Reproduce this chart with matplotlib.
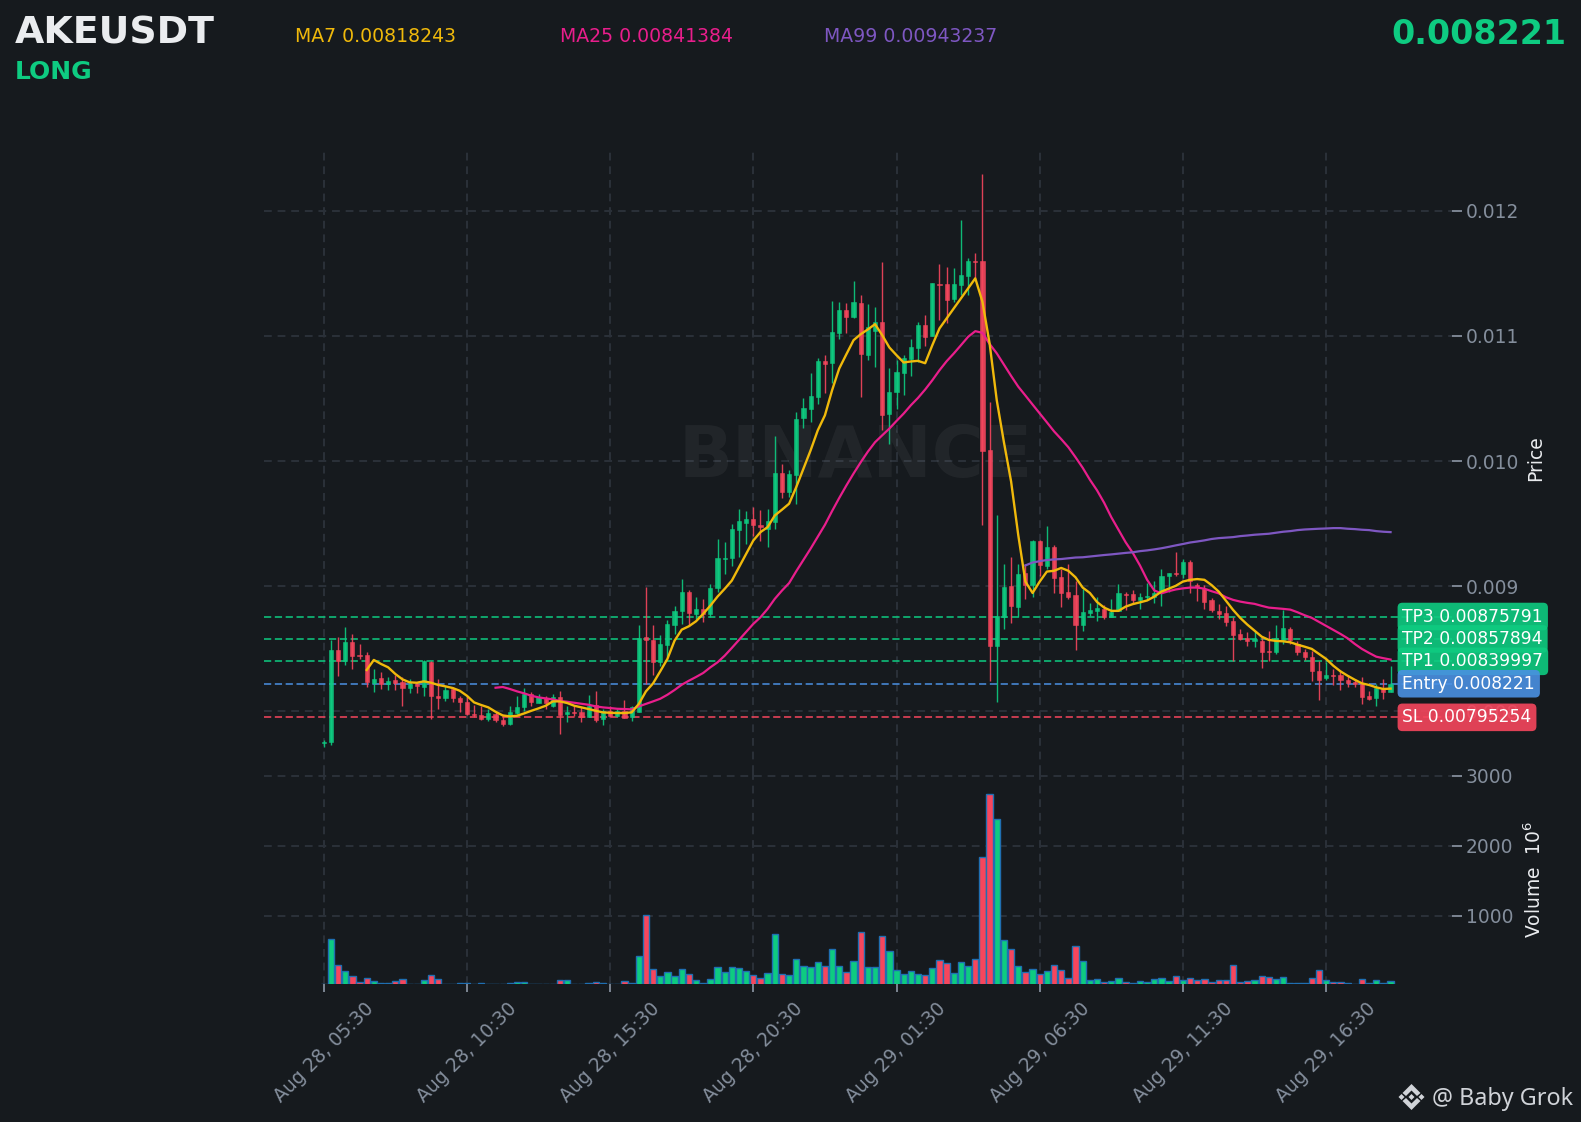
import numpy as np
import matplotlib
matplotlib.use('Agg')
import matplotlib.pyplot as plt
from matplotlib.patches import Polygon

# prices below are in millionths
opens = [7747, 7752, 8493, 8405, 8557, 8453, 8453, 8229, 8269, 8216,
         8253, 8237, 8184, 8216, 8192, 8392, 8125, 8104, 8176, 8109,
         8077, 7981, 7973, 7936, 7981, 7933, 7896, 7989, 8032, 8136,
         8069, 8107, 8045, 8117, 7981, 7997, 7997, 7957, 8053, 7939,
         8000, 7965, 8005, 7957, 7992, 8597, 8571, 8397, 8533, 8693,
         8805, 8957, 8779, 8821, 8779, 8984, 9221, 9224, 9445, 9504,
         9539, 9485, 9459, 9512, 9907, 9752, 9885, 10344, 10413, 10512,
         10797, 10779, 11024, 11205, 11152, 11259, 10845, 11037, 11107, 10373,
         10549, 10704, 10813, 10901, 11085, 10997, 11411, 11411, 11293, 11405,
         11480, 11597, 11597, 10085, 8520, 8757, 9000, 8831, 9109, 9009,
         9360, 9160, 9311, 9071, 8951, 8929, 8689, 8786, 8800, 8820,
         8757, 8803, 8937, 8937, 8889, 8911, 8917, 8951, 9080, 9106,
         9100, 9191, 9009, 8980, 8889, 8805, 8787, 8725, 8619, 8587,
         8560, 8565, 8485, 8472, 8571, 8659, 8539, 8477, 8437, 8325,
         8264, 8291, 8293, 8253, 8237, 8219, 8123, 8104, 8179, 8152]
highs = [7771, 8571, 8597, 8677, 8619, 8539, 8477, 8339, 8317, 8272,
         8291, 8272, 8256, 8232, 8411, 8405, 8259, 8205, 8197, 8125,
         8125, 8053, 8045, 8019, 7992, 7965, 8043, 8123, 8187, 8152,
         8139, 8125, 8139, 8165, 8045, 8045, 8032, 8128, 8165, 8019,
         8043, 8019, 8091, 8045, 8691, 8992, 8691, 8611, 8731, 8845,
         9059, 8971, 8912, 8899, 9019, 9379, 9352, 9499, 9619, 9597,
         9632, 9605, 9619, 10203, 9979, 9931, 10392, 10507, 10699, 10819,
         10845, 11280, 11272, 11259, 11440, 11325, 11251, 11227, 11587, 10739,
         10805, 10845, 10971, 11112, 11165, 11424, 11571, 11547, 11539, 11926,
         11619, 11659, 12291, 10472, 9571, 9174, 9237, 9174, 9180, 9366,
         9366, 9480, 9329, 9137, 9180, 9043, 8980, 8866, 8917, 8851,
         8900, 9014, 8951, 8966, 8943, 9029, 9043, 9137, 9109, 9271,
         9214, 9209, 9023, 9009, 8909, 8859, 8845, 8752, 8659, 8632,
         8640, 8592, 8640, 8691, 8811, 8672, 8560, 8499, 8485, 8405,
         8392, 8339, 8331, 8285, 8256, 8277, 8165, 8219, 8259, 8363]
lows = [7712, 7728, 8280, 8368, 8336, 8416, 8192, 8152, 8176, 8168,
        8168, 8043, 8144, 8144, 8120, 7939, 8016, 8080, 8072, 7992,
        7971, 7957, 7933, 7920, 7912, 7880, 7888, 7979, 8005, 8045,
        8064, 8019, 8037, 7819, 7912, 7963, 7912, 7957, 7912, 7891,
        7952, 7957, 7947, 7925, 7992, 8219, 8291, 8365, 8432, 8619,
        8699, 8685, 8739, 8712, 8752, 8952, 9099, 9165, 9237, 9339,
        9397, 9365, 9312, 9459, 9704, 9712, 9659, 10267, 10312, 10459,
        10547, 10627, 10971, 11024, 11139, 10512, 10805, 10752, 10245, 10139,
        10419, 10531, 10680, 10792, 10920, 10997, 11125, 11099, 11272, 11325,
        11325, 11459, 9485, 8245, 8072, 8660, 8709, 8757, 8900, 8917,
        9080, 9137, 8943, 8831, 8900, 8494, 8643, 8763, 8723, 8737,
        8757, 8803, 8809, 8866, 8814, 8889, 8866, 8843, 8957, 9080,
        9066, 8946, 8880, 8814, 8794, 8739, 8685, 8405, 8571, 8523,
        8512, 8347, 8405, 8459, 8539, 8539, 8451, 8411, 8245, 8091,
        8251, 8211, 8171, 8197, 8192, 8059, 8091, 8043, 8099, 8152]
closes = [7757, 8493, 8405, 8557, 8445, 8445, 8237, 8261, 8216, 8245,
          8229, 8184, 8216, 8200, 8400, 8120, 8104, 8171, 8104, 8072,
          7976, 7968, 7936, 7989, 7931, 7896, 7997, 8037, 8139, 8072,
          8112, 8064, 8112, 7973, 7997, 7989, 7957, 8043, 7933, 8005,
          7965, 8005, 7947, 8032, 8587, 8571, 8397, 8539, 8699, 8805,
          8957, 8784, 8821, 8779, 8987, 9227, 9227, 9453, 9517, 9539,
          9485, 9472, 9517, 9907, 9752, 9893, 10339, 10427, 10517, 10797,
          10773, 11027, 11205, 11152, 11267, 10853, 11072, 11107, 10365, 10555,
          10707, 10819, 10907, 11085, 10992, 11419, 11405, 11285, 11413, 11485,
          11597, 11592, 10080, 8520, 8765, 8997, 8843, 9094, 9009, 9360,
          9171, 9311, 9066, 8946, 8917, 8689, 8791, 8809, 8826, 8757,
          8794, 8946, 8929, 8889, 8911, 8923, 8946, 9080, 9106, 9094,
          9191, 9043, 8997, 8871, 8809, 8779, 8712, 8613, 8579, 8560,
          8576, 8472, 8472, 8587, 8667, 8571, 8472, 8432, 8320, 8253,
          8291, 8283, 8253, 8224, 8219, 8112, 8101, 8184, 8152, 8221]

volumes = [30, 676, 305, 219, 143, 62, 119, 76, 48, 43,
           76, 105, 33, 33, 90, 157, 100, 33, 33, 48,
           48, 28, 48, 29, 29, 29, 43, 62, 62, 33,
           29, 29, 33, 90, 90, 33, 33, 48, 62, 48,
           28, 28, 76, 48, 433, 1019, 248, 148, 205, 143,
           248, 176, 90, 48, 105, 276, 205, 276, 262, 219,
           162, 119, 190, 748, 176, 162, 390, 290, 276, 348,
           290, 533, 290, 205, 352, 767, 276, 276, 710, 505,
           233, 167, 219, 176, 162, 262, 376, 324, 190, 348,
           290, 390, 1848, 2738, 2381, 662, 533, 290, 205, 248,
           176, 219, 305, 233, 119, 576, 362, 90, 105, 62,
           76, 119, 62, 48, 76, 62, 105, 119, 76, 148,
           90, 119, 90, 105, 62, 90, 90, 295, 62, 76,
           90, 148, 133, 105, 133, 48, 48, 48, 119, 233,
           90, 62, 62, 38, 29, 105, 48, 90, 48, 76]

ma7 = [8331, 8411, 8379, 8352, 8299, 8256, 8232, 8229, 8240, 8229,
       8211, 8200, 8187, 8165, 8125, 8072, 8051, 8032, 7997, 7968,
       7960, 7965, 7984, 8005, 8024, 8045, 8080, 8080, 8067, 8045,
       8032, 8019, 8005, 7992, 7989, 7987, 7987, 7992, 8059, 8160,
       8224, 8320, 8419, 8565, 8653, 8680, 8720, 8779, 8845, 8917,
       8979, 9045, 9152, 9259, 9365, 9432, 9472, 9565, 9611, 9659,
       9792, 9939, 10085, 10245, 10365, 10565, 10739, 10853, 10965, 11013,
       11051, 11093, 11005, 10907, 10845, 10787, 10795, 10800, 10781, 10925,
       11059, 11139, 11219, 11299, 11379, 11459, 11272, 10939, 10485, 10150,
       9837, 9409, 9037, 8946, 9037, 9117, 9123, 9146, 9123, 9071,
       8989, 8946, 8874, 8829, 8803, 8803, 8837, 8857, 8871, 8886,
       8917, 8957, 8980, 9003, 9037, 9051, 9057, 9051, 9009, 8957,
       8885, 8811, 8747, 8693, 8645, 8597, 8571, 8563, 8560, 8552,
       8533, 8517, 8499, 8459, 8419, 8365, 8320, 8285, 8253, 8224,
       8211, 8192, 8179, 8182]
ma25 = [8189, 8195, 8179, 8160, 8144, 8125, 8112, 8104, 8096, 8083,
        8077, 8069, 8061, 8053, 8040, 8032, 8027, 8021, 8019, 8016,
        8040, 8060, 8080, 8101, 8133, 8171, 8213, 8245, 8275, 8307,
        8352, 8392, 8445, 8507, 8571, 8635, 8699, 8752, 8819, 8899,
        8965, 9025, 9120, 9210, 9300, 9395, 9490, 9600, 9705, 9805,
        9900, 9990, 10075, 10150, 10205, 10259, 10320, 10379, 10445, 10504,
        10571, 10645, 10725, 10797, 10859, 10925, 10992, 11037, 11024, 10935,
        10860, 10770, 10680, 10594, 10523, 10451, 10380, 10309, 10237, 10175,
        10110, 10030, 9946, 9851, 9766, 9666, 9551, 9451, 9351, 9266,
        9166, 9051, 8966, 8943, 8960, 8974, 8983, 8989, 8989, 8980,
        8960, 8943, 8912, 8891, 8877, 8867, 8859, 8843, 8829, 8824,
        8819, 8813, 8792, 8768, 8747, 8715, 8683, 8651, 8619, 8584,
        8539, 8499, 8467, 8437, 8425, 8414]
ma99 = [9166, 9189, 9200, 9209, 9214, 9217, 9223, 9229, 9231, 9237,
        9243, 9249, 9254, 9260, 9266, 9271, 9280, 9286, 9294, 9303,
        9314, 9326, 9337, 9349, 9357, 9366, 9377, 9384, 9388, 9392,
        9400, 9405, 9411, 9415, 9419, 9427, 9435, 9440, 9448, 9453,
        9456, 9459, 9461, 9464, 9464, 9459, 9456, 9451, 9448, 9440,
        9435, 9432]

tick_pos = [0, 20, 40, 60, 80, 100, 120, 140]
tick_labels = ['Aug 28, 05:30', 'Aug 28, 10:30', 'Aug 28, 15:30', 'Aug 28, 20:30',
               'Aug 29, 01:30', 'Aug 29, 06:30', 'Aug 29, 11:30', 'Aug 29, 16:30']
price_ticks = [0.008, 0.009, 0.010, 0.011, 0.012]
vol_ticks = [1000, 2000, 3000]

level_names = ['TP3 0.00875791', 'TP2 0.00857894', 'TP1 0.00839997', 'Entry 0.008221', 'SL 0.00795254']
level_prices = [0.00875791, 0.00857894, 0.00839997, 0.008221, 0.00795254]

BG = '#161A1E'
UP = '#0ECB81'
DOWN = '#F6465D'
BLUE = '#4A90E2'
GRID = '#2B3139'
TICK = '#848E9C'
W, H = 1581, 1122


def fx(px):
    return px / W


def fy(py):
    return 1 - py / H


opens = np.array(opens) / 1e6
highs = np.array(highs) / 1e6
lows = np.array(lows) / 1e6
closes = np.array(closes) / 1e6
x = np.arange(len(opens))
is_up = closes >= opens
colors = [UP if u else DOWN for u in is_up]

fig = plt.figure(figsize=(W / 100, H / 100), dpi=100, facecolor=BG)
ax = fig.add_axes([fx(264), fy(773), (1452 - 264) / W, (773 - 147) / H], facecolor=BG)
ax2 = fig.add_axes([fx(264), fy(984), (1452 - 264) / W, (984 - 773) / H], facecolor=BG, sharex=ax)

# watermark, under the candles
ax.text(fx(856), fy(458), 'BINANCE', color='white', alpha=0.05, fontsize=51, transform=fig.transFigure,
        fontweight='bold', ha='center', va='center', zorder=1)

# candles
ax.vlines(x, lows, highs, colors=colors, linewidth=1.0, alpha=0.9, zorder=3)
body_low = np.minimum(opens, closes)
body_h = np.abs(closes - opens)
ax.bar(x, body_h, bottom=body_low, width=0.58, color=colors, edgecolor=colors,
       linewidth=0.4, alpha=0.9, zorder=3)

# moving averages
ax.plot(np.arange(6, 6 + len(ma7)), np.array(ma7) / 1e6, color='#F0B90B', lw=1.7, zorder=5)
ax.plot(np.arange(24, 24 + len(ma25)), np.array(ma25) / 1e6, color='#E91E8C', lw=1.6, zorder=4)
ax.plot(np.arange(98, 98 + len(ma99)), np.array(ma99) / 1e6, color='#7E57C2', lw=1.6, zorder=4)

# trade levels
level_colors = [UP, UP, UP, BLUE, DOWN]
for name, price, col in zip(level_names, level_prices, level_colors):
    ax.axhline(price, color=col, ls='--', lw=1.3, alpha=0.85, zorder=2, dashes=(4, 2))
    ax.text(150.65, price, name, color='white', fontsize=12.3, va='center', ha='left', zorder=10,
            clip_on=False, bbox=dict(boxstyle='round,pad=0.28', facecolor=col, edgecolor='none', alpha=0.9))

# volume
ax2.bar(x, volumes, width=0.88, color=colors, edgecolor='#1F6FB2', linewidth=1.0, zorder=3)

ax.set_xlim(-8.34, 157.58)
ax.set_ylim(0.007508, 0.012508)
ax2.set_ylim(29, 3040)

for a in (ax, ax2):
    a.grid(True, color=GRID, ls='--', lw=1.4, dashes=(4, 3), zorder=0)
    a.set_axisbelow(True)
    for s in a.spines.values():
        s.set_visible(False)
    a.yaxis.tick_right()
    a.tick_params(axis='y', colors=TICK, labelsize=13.4, length=7, width=1.3, pad=3)

ax.set_yticks(price_ticks)
ax.set_yticklabels(['%.3f' % p for p in price_ticks])
ax.tick_params(axis='x', length=0, labelbottom=False)
ax2.set_yticks(vol_ticks)
ax2.set_yticklabels([str(v) for v in vol_ticks])
ax2.set_xticks(tick_pos)
ax2.set_xticklabels(tick_labels, rotation=45, ha='center', fontsize=13.5)
ax2.tick_params(axis='x', colors=TICK, length=6, width=1.3, pad=5)

fig.text(fx(1536), fy(458), 'Price', color='#EAECEF', fontsize=13.5, rotation=90, ha='center', va='center')
fig.text(fx(1534), fy(880), 'Volume  $10^{6}$', color='#EAECEF', fontsize=13.5, rotation=90, ha='center', va='center')

# header
fig.text(fx(15), fy(34), 'AKEUSDT', color='#EAECEF', fontsize=27.3, fontweight='bold', va='center')
fig.text(fx(15), fy(72), 'LONG', color=UP, fontsize=18, fontweight='bold', va='center')
fig.text(fx(1566), fy(35), '0.008221', color=UP, fontsize=24, fontweight='bold', ha='right', va='center')
fig.text(fx(295), fy(37), 'MA7 0.00818243', color='#F0B90B', fontsize=13.6, va='center')
fig.text(fx(560), fy(37), 'MA25 0.00841384', color='#E91E8C', fontsize=13.6, va='center')
fig.text(fx(824), fy(37), 'MA99 0.00943237', color='#7E57C2', fontsize=13.6, va='center')

# footer with logo
fig.text(fx(1432), fy(1099), '@ Baby Grok', color='#D0D3D8', family='Noto Sans', fontsize=16.8, va='center')
logo_cx, logo_cy = 1411.5, 1097
logo_parts = [
    [(0, -13), (9, -4), (5.5, -1), (0, -6.5), (-5.5, -1), (-9, -4)],
    [(0, 13), (9, 4), (5.5, 1), (0, 6.5), (-5.5, 1), (-9, 4)],
    [(0, -3), (3, 0), (0, 3), (-3, 0)],
    [(-13, 0), (-10, -3), (-7, 0), (-10, 3)],
    [(13, 0), (10, -3), (7, 0), (10, 3)],
]
for part in logo_parts:
    pts = [(fx(logo_cx + dx), fy(logo_cy + dy)) for dx, dy in part]
    fig.add_artist(Polygon(pts, closed=True, transform=fig.transFigure, facecolor='#D0D3D8', edgecolor='none'))

fig.savefig('out.png', dpi=100, facecolor=BG)
